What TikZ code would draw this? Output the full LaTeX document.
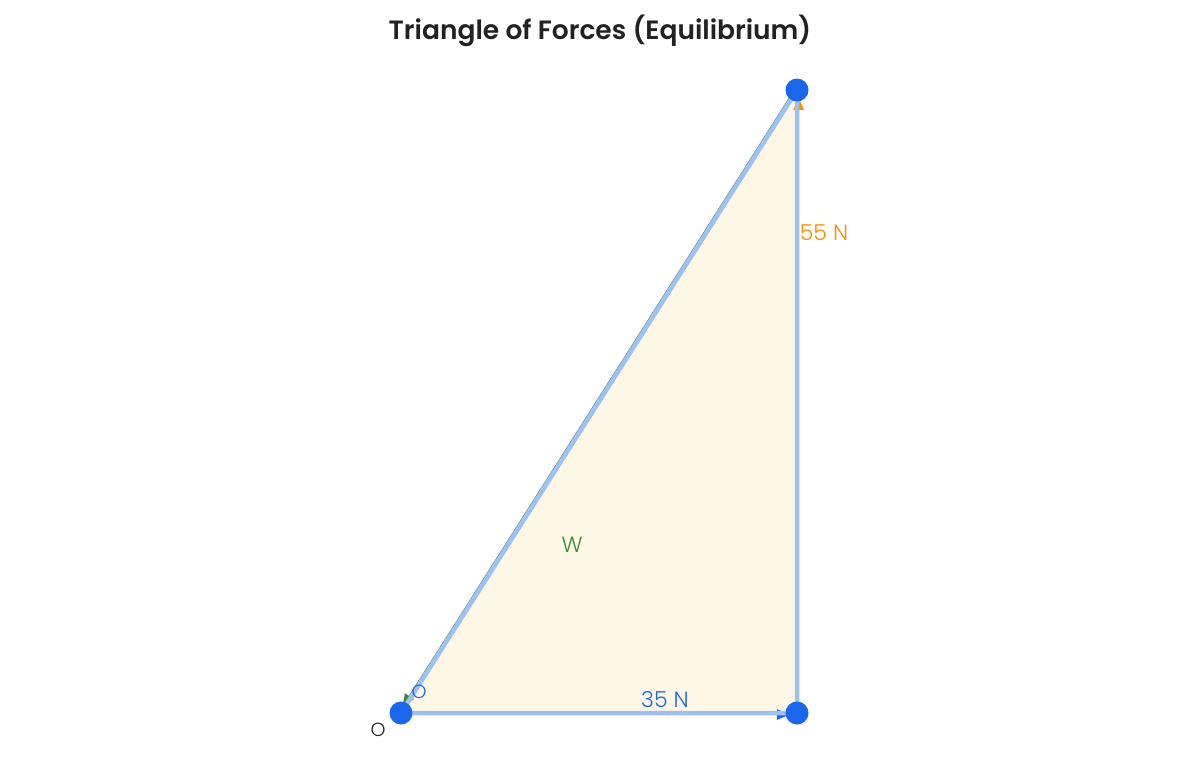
\documentclass[tikz,border=0pt]{standalone}
\usepackage{fontspec}
\setmainfont{Poppins}
\newfontfamily\lightfont{Poppins}[UprightFont={* Light}]
\newfontfamily\titlefont{Poppins}[UprightFont={* SemiBold}]
\usepackage{xcolor}
\usetikzlibrary{arrows.meta}

\definecolor{dotblue}{HTML}{1A66EC}
\definecolor{edgeblue}{HTML}{9EC0F5}
\definecolor{fillcream}{HTML}{FDF7E5}
\definecolor{forceorange}{HTML}{FF8C00}
\definecolor{forcegreen}{HTML}{3C8A37}
\definecolor{titlegray}{HTML}{222222}

\tikzset{
    vertex/.style={circle, fill=dotblue, inner sep=0pt, minimum size=23pt},
    force/.style={line width=1.2pt, -{Latex[length=15pt, width=11pt]}, shorten >=5pt},
    flabel/.style={font=\fontsize{22}{26}\lightfont}
}

\begin{document}
\begin{tikzpicture}[x=1pt, y=-1pt]
    \useasboundingbox (0, 0) rectangle (1200, 763);

    % Title
    \node[text=titlegray, font=\fontsize{26.5}{30}\titlefont] (title) at (600, 31) {Triangle of Forces (Equilibrium)};

    % Define the corner points
    \coordinate (O) at (401, 713);
    \coordinate (B) at (797, 713);
    \coordinate (C) at (797, 90);

    % Fill the triangle
    \fill[fillcream] (O) -- (B) -- (C) -- cycle;

    % Draw the forces
    \begin{scope}[transform canvas={yshift=-1.6pt}]
        \draw[force, dotblue] (O) -- (B);
    \end{scope}
    \begin{scope}[transform canvas={xshift=1.6pt}]
        \draw[force, forceorange] (B) -- (C);
    \end{scope}
    \begin{scope}[transform canvas={xshift=-2.4pt}]
        \draw[force, forcegreen] (C) -- (O);
    \end{scope}

    % Draw the outline
    \draw[edgeblue, line width=4.5pt, line join=round] (O) -- (B) -- (C) -- cycle;

    % Draw the vertices
    \node[vertex] (vO) at (O) {};
    \node[vertex] (vB) at (B) {};
    \node[vertex] (vC) at (C) {};

    % Labels
    \node[flabel, text=dotblue] (lab35) at (665, 700) {35 N};
    \node[flabel, text=forceorange] (lab55) at (824, 233) {55 N};
    \node[flabel, text=forcegreen] (labW) at (572, 545) {W};
    \node[font=\fontsize{19}{22}\lightfont, text=dotblue] (labO) at (419, 692) {O};
    \node[font=\fontsize{19}{22}\lightfont, text=titlegray] (origin) at (378, 730) {O};
\end{tikzpicture}
\end{document}
